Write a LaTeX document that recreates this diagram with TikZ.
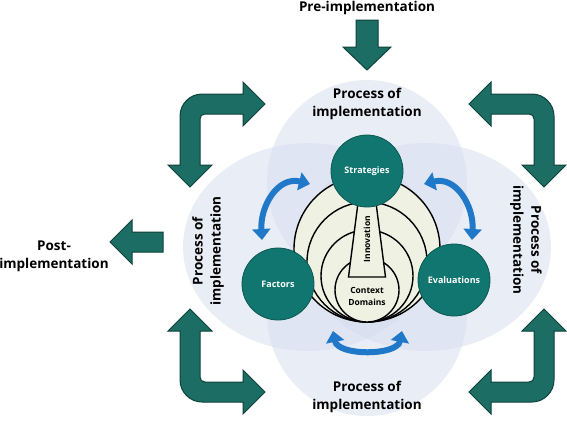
\documentclass[tikz,border=0pt]{standalone}
\usepackage{fontspec}
\setmainfont{Open Sans}
\usetikzlibrary{arrows.meta}
\definecolor{lobe}{HTML}{D4DCEE}
\definecolor{tealone}{HTML}{117670}
\definecolor{tealedge}{HTML}{0B5853}
\definecolor{garrow}{HTML}{1C6D63}
\definecolor{garrowedge}{HTML}{0D413B}
\definecolor{cream}{HTML}{EFF1E2}
\definecolor{barrow}{HTML}{1F78C8}
\tikzset{
  lobestyle/.style={fill=lobe, fill opacity=0.5},
  tealcircle/.style={circle, fill=tealone, draw=tealedge, line width=0.8pt, minimum size=72pt, inner sep=0pt, text=white, font=\bfseries\fontsize{9}{10}\selectfont},
  ring/.style={circle, fill=cream, draw=black, line width=1.4pt, inner sep=0pt},
  trap/.style={fill=cream, draw=black, line width=1.4pt, line join=miter},
  bigtext/.style={font=\bfseries\fontsize{13.5}{18}\selectfont, align=center, inner sep=0pt},
  smalltext/.style={font=\bfseries\fontsize{8.5}{12}\selectfont, align=center, inner sep=0pt, text=black},
  greenarrow/.style={fill=garrow, draw=garrowedge, line width=1pt, line join=miter},
  bluearrow/.style={draw=barrow, line width=6pt, {Triangle[width=18pt,length=11pt]}-{Triangle[width=18pt,length=11pt]}},
  cornerarr/.pic={
    \filldraw[greenarrow] (75,0) -- (53,-22) -- (53,-10) -- (12,-10)
      .. controls (0,-10) and (-10,0) .. (-10,12) -- (-10,61) -- (-22,61) -- (0,83)
      -- (22,61) -- (10,61) -- (10,15) .. controls (10,12) and (12,10) .. (15,10)
      -- (53,10) -- (53,22) -- cycle;
  }
}
\begin{document}
\begin{tikzpicture}[x=1pt,y=-1pt]
\useasboundingbox (0,0) rectangle (567,424);
% background lobes
\fill[lobestyle] (308,247) ellipse [x radius=125pt, y radius=104pt];
\fill[lobestyle] (426,247) ellipse [x radius=125pt, y radius=104pt];
\fill[lobestyle] (367,182) ellipse [x radius=100pt, y radius=102pt];
\fill[lobestyle] (367,314) ellipse [x radius=100pt, y radius=102pt];

% corner arrows
\begin{scope}[shift={(190,104)}] \pic[transform shape] {cornerarr}; \end{scope}
\begin{scope}[shift={(544,104)}, xscale=-1] \pic[transform shape] {cornerarr}; \end{scope}
\begin{scope}[shift={(190,392)}, yscale=-1] \pic[transform shape] {cornerarr}; \end{scope}
\begin{scope}[shift={(544,392)}, xscale=-1, yscale=-1] \pic[transform shape] {cornerarr}; \end{scope}

% pre / post arrows
\filldraw[greenarrow] (356,20) -- (378,20) -- (378,47) -- (391,47) -- (367,70) -- (343,47) -- (356,47) -- cycle;
\filldraw[greenarrow] (163,232) -- (163,252) -- (132,252) -- (132,264) -- (110,242) -- (132,220) -- (132,232) -- cycle;

% texts
\node[bigtext] (pre) at (367,8) {Pre-implementation};
\node[bigtext] (post) at (54,256) {Post-\\implementation};
\node[bigtext] (ptop) at (367,104) {Process of\\implementation};
\node[bigtext] (pbot) at (367,397) {Process of\\implementation};
\node[bigtext, rotate=90] (pleft) at (208,251) {Process of\\implementation};
\node[bigtext, rotate=-90] (pright) at (526,240) {Process of\\implementation};

% nested rings
\node[ring, minimum size=146pt] (ring1) at (367,249) {};
\node[ring, minimum size=120pt] (ring2) at (367,262) {};
\node[ring, minimum size=92pt] (ring3) at (367,276) {};
\node[ring, minimum size=64pt] (ring4) at (367,290) {};
\filldraw[trap] (359,195) -- (375,195) -- (385.5,277) -- (348.5,277) -- cycle;
\node[smalltext, rotate=90] (innov) at (367,239) {Innovation};
\node[smalltext] (ctx) at (367,296) {Context\\Domains};

% teal circles
\node[tealcircle] (strat) at (367,171) {Strategies};
\node[tealcircle] (fact) at (278,284) {Factors};
\node[tealcircle] (eval) at (454,280) {Evaluations};

% blue arrows
\coordinate (bl1) at (310,184);
\coordinate (bl2) at (262,240);
\coordinate (br1) at (424,184);
\coordinate (br2) at (472,240);
\coordinate (bb1) at (333,331);
\coordinate (bb2) at (402,331);
\draw[bluearrow] (bl1) .. controls (278,176) and (260,206) .. (bl2);
\draw[bluearrow] (br1) .. controls (456,176) and (474,206) .. (br2);
\draw[bluearrow] (bb1) .. controls (338,356) and (397,356) .. (bb2);
\end{tikzpicture}
\end{document}
